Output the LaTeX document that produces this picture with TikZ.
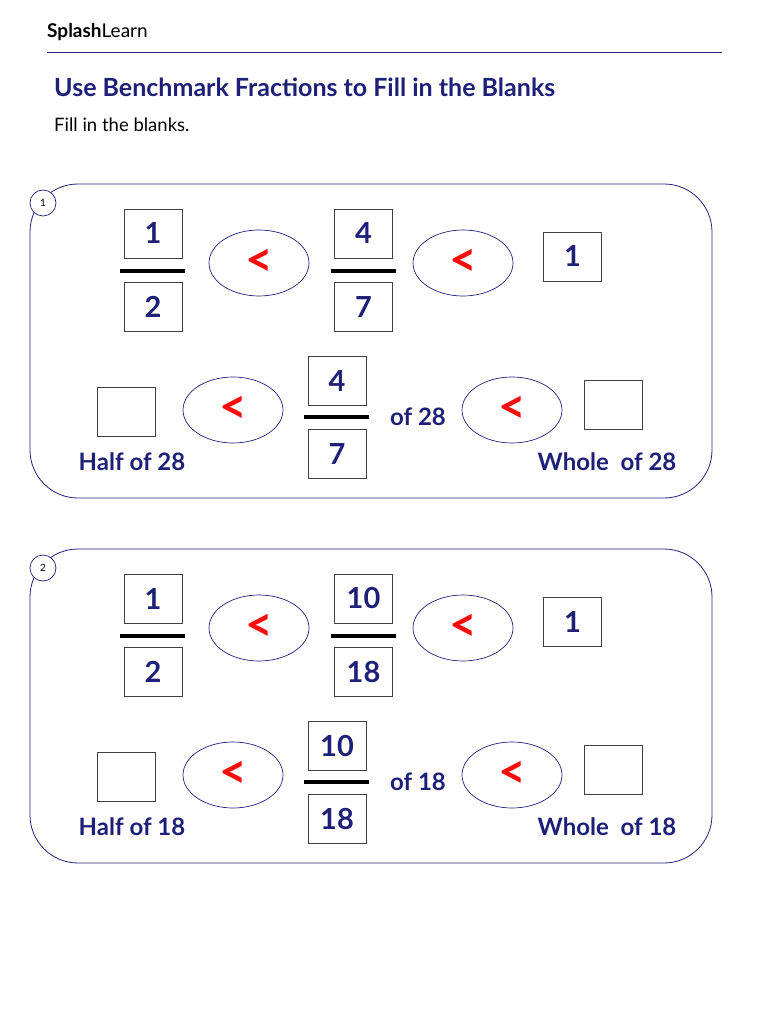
\documentclass[tikz,border=0pt]{standalone}
\usepackage{fontspec}
\setmainfont{Lato}
\usetikzlibrary{shapes.geometric}
\definecolor{navy}{RGB}{30,32,120}
\definecolor{redlt}{RGB}{250,10,10}
\tikzset{
  numbox/.style={draw=black!75,line width=0.8pt,minimum width=58pt,minimum height=49pt,inner sep=0,font=\bfseries\fontsize{29}{29}\selectfont,text=navy},
  blankbox/.style={draw=black!75,line width=0.8pt,minimum width=58pt,minimum height=49pt,inner sep=0},
  ltoval/.style={draw=navy,line width=0.7pt,ellipse,minimum width=100pt,minimum height=66pt,inner sep=0,font=\bfseries\fontsize{48}{48}\selectfont,text=redlt},
  fbar/.style={line width=4pt,black},
  lbl/.style={font=\bfseries\fontsize{24}{24}\selectfont,text=navy,inner sep=0},
  qnum/.style={draw=navy,circle,line width=0.7pt,fill=white,minimum size=26pt,inner sep=0,font=\fontsize{10}{10}\selectfont}
}
\begin{document}
\begin{tikzpicture}[x=1pt,y=-1pt]
\useasboundingbox (0,0) rectangle (768,1024);
\node[anchor=west,inner sep=0,font=\bfseries\fontsize{19}{19}\selectfont] (logo) at (47,32) {Splash\mdseries Learn};
\draw[navy,line width=1pt] (47,53) coordinate (l1) -- (722,53) coordinate (l2);
\node[anchor=west,inner sep=0,font=\bfseries\fontsize{25}{25}\selectfont,text=navy] (title) at (54,87) {Use Benchmark Fractions to Fill in the Blanks};
\node[anchor=west,inner sep=0,font=\fontsize{18.5}{18.5}\selectfont] (sub) at (54,125) {Fill in the blanks.};
\foreach \k/\dy/\a/\b/\n in {1/0/4/7/28, 2/365/10/18/18}{
  \begin{scope}[yshift=-\dy pt]
  \draw[navy,line width=0.8pt,rounded corners=48pt] (30,184) rectangle (712,498);
  \node[qnum] (q\k) at (43,203) {\k};
  \node[numbox] (t1\k) at (153,233.5) {1};
  \draw[fbar] (120,271) coordinate (b1s\k) -- (185,271) coordinate (b1e\k);
  \node[numbox] (t2\k) at (153,307) {2};
  \node[ltoval] (o1\k) at (259,263) {<};
  \node[numbox] (t3\k) at (363.5,233.5) {\a};
  \draw[fbar] (331,271) coordinate (b2s\k) -- (396,271) coordinate (b2e\k);
  \node[numbox] (t4\k) at (363.5,307) {\b};
  \node[ltoval] (o2\k) at (463,263) {<};
  \node[numbox] (t5\k) at (572.5,256.5) {1};
  \node[blankbox] (e1\k) at (126,412) {};
  \node[ltoval] (o3\k) at (233,410) {<};
  \node[numbox] (t6\k) at (337,381) {\a};
  \draw[fbar] (304,417) coordinate (b3s\k) -- (369,417) coordinate (b3e\k);
  \node[numbox] (t7\k) at (337,454) {\b};
  \node[lbl] (of\k) at (418,417) {of \n};
  \node[ltoval] (o4\k) at (512,410) {<};
  \node[blankbox] (e2\k) at (613.5,404.5) {};
  \node[lbl] (h\k) at (132,462) {Half of \n};
  \node[lbl] (w\k) at (607,462) {Whole\ \ of \n};
  \end{scope}
}
\end{tikzpicture}
\end{document}
